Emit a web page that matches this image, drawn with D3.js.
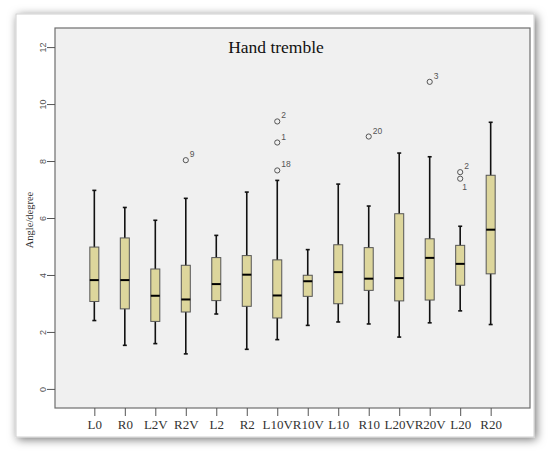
<!DOCTYPE html>
<html>
<head>
<meta charset="utf-8">
<script src="https://cdn.jsdelivr.net/npm/d3@7"></script>
<style>
  body { margin: 0; background: #fff; }
  svg { display: block; }
</style>
</head>
<body>
<svg id="chart"></svg>
<script>
// Data
const groups = ["L0", "R0", "L2V", "R2V", "L2", "R2", "L10V", "R10V", "L10", "R10", "L20V", "R20V", "L20", "R20"];
const whiskerLow = [2.40, 1.53, 1.59, 1.23, 2.63, 1.39, 1.73, 2.23, 2.35, 2.28, 1.82, 2.32, 2.74, 2.26];
const q1 = [3.07, 2.81, 2.37, 2.70, 3.10, 2.90, 2.49, 3.25, 2.99, 3.46, 3.09, 3.12, 3.64, 4.04];
const median = [3.82, 3.82, 3.27, 3.14, 3.68, 4.01, 3.28, 3.78, 4.10, 3.87, 3.89, 4.60, 4.39, 5.59];
const q3 = [4.98, 5.30, 4.21, 4.34, 4.61, 4.68, 4.53, 3.99, 5.06, 4.96, 6.15, 5.27, 5.04, 7.50];
const whiskerHigh = [6.97, 6.37, 5.92, 6.69, 5.39, 6.91, 7.32, 4.89, 7.19, 6.42, 8.28, 8.15, 5.71, 9.36];
const outliers = [
  { group: "R2V", value: 8.03, label: "9" },
  { group: "L10V", value: 9.39, label: "2" },
  { group: "L10V", value: 8.65, label: "1" },
  { group: "L10V", value: 7.67, label: "18" },
  { group: "R10", value: 8.86, label: "20" },
  { group: "R20V", value: 10.78, label: "3" },
  { group: "L20", value: 7.61, label: "2" },
  { group: "L20", value: 7.38, label: "1" }
];
const yTicks = [0, 2, 4, 6, 8, 10, 12];

const width = 550;
const height = 451;
const plot = { left: 55, right: 530, top: 28, bottom: 408 };

const svg = d3.select("#chart")
  .attr("width", width)
  .attr("height", height);

// card with a soft gray halo
const defs = svg.append("defs");
const filter = defs.append("filter").attr("id", "shadow")
  .attr("x", "-10%").attr("y", "-10%").attr("width", "120%").attr("height", "120%");
filter.append("feDropShadow")
  .attr("dx", 2).attr("dy", 2).attr("stdDeviation", 5)
  .attr("flood-color", "#000").attr("flood-opacity", 0.55);

svg.append("rect")
  .attr("x", 16).attr("y", 14)
  .attr("width", 518).attr("height", 423)
  .attr("fill", "#fff")
  .attr("stroke", "#d0d0d0")
  .attr("filter", "url(#shadow)");

const x = d3.scalePoint()
  .domain(groups)
  .range([plot.left, plot.right])
  .padding(1.29);

const y = d3.scaleLinear()
  .domain([-0.67, 12.67])
  .range([plot.bottom, plot.top]);

// plot area
svg.append("rect")
  .attr("x", plot.left).attr("y", plot.top)
  .attr("width", plot.right - plot.left)
  .attr("height", plot.bottom - plot.top)
  .attr("fill", "#f0f0f0")
  .attr("stroke", "#6e6e6e")
  .attr("stroke-width", 1.2);

// y axis
const yAxis = svg.append("g")
  .attr("transform", `translate(${plot.left},0)`)
  .call(d3.axisLeft(y).tickValues(yTicks).tickSize(8).tickFormat(d3.format("d")));
yAxis.select(".domain").remove();
yAxis.selectAll(".tick line").attr("stroke", "#555");
yAxis.selectAll(".tick text")
  .attr("transform", "rotate(-90)")
  .attr("x", 0)
  .attr("y", -9)
  .attr("dy", "0")
  .attr("text-anchor", "middle")
  .attr("font-family", "Liberation Sans, Arial, sans-serif")
  .attr("font-size", 9)
  .attr("fill", "#555");

svg.append("text")
  .attr("transform", "translate(33,220) rotate(-90)")
  .attr("text-anchor", "middle")
  .attr("font-family", "Liberation Serif, Times New Roman, serif")
  .attr("font-size", 10.5)
  .attr("fill", "#333")
  .text("Angle/degree");

// x axis
const xAxis = svg.append("g")
  .attr("transform", `translate(0,${plot.bottom})`)
  .call(d3.axisBottom(x).tickSize(8));
xAxis.select(".domain").remove();
xAxis.selectAll(".tick line").attr("stroke", "#555");
xAxis.selectAll(".tick text")
  .attr("y", 12)
  .attr("font-family", "Liberation Serif, Times New Roman, serif")
  .attr("font-size", 13)
  .attr("fill", "#333");

// title
svg.append("text")
  .attr("x", 276).attr("y", 53)
  .attr("text-anchor", "middle")
  .attr("font-family", "Liberation Serif, Times New Roman, serif")
  .attr("font-size", 17.5)
  .attr("fill", "#111")
  .text("Hand tremble");

// boxes
const boxW = 9;
const capW = 4;
const stats = groups.map((g, i) => ({
  g, lo: whiskerLow[i], q1: q1[i], med: median[i], q3: q3[i], hi: whiskerHigh[i]
}));

const box = svg.append("g").selectAll("g")
  .data(stats)
  .enter()
  .append("g")
  .attr("transform", d => `translate(${x(d.g)},0)`);

box.append("line")
  .attr("y1", d => y(d.lo)).attr("y2", d => y(d.hi))
  .attr("stroke", "#111").attr("stroke-width", 1.6);

box.append("line")
  .attr("x1", -capW / 2).attr("x2", capW / 2)
  .attr("y1", d => y(d.hi)).attr("y2", d => y(d.hi))
  .attr("stroke", "#111").attr("stroke-width", 1.6);

box.append("line")
  .attr("x1", -capW / 2).attr("x2", capW / 2)
  .attr("y1", d => y(d.lo)).attr("y2", d => y(d.lo))
  .attr("stroke", "#111").attr("stroke-width", 1.6);

box.append("rect")
  .attr("x", -boxW / 2)
  .attr("y", d => y(d.q3))
  .attr("width", boxW)
  .attr("height", d => y(d.q1) - y(d.q3))
  .attr("fill", "#ddd69c")
  .attr("stroke", "#555")
  .attr("stroke-width", 1);

box.append("line")
  .attr("x1", -boxW / 2).attr("x2", boxW / 2)
  .attr("y1", d => y(d.med)).attr("y2", d => y(d.med))
  .attr("stroke", "#000").attr("stroke-width", 2);

// outliers; a label goes below its circle when another one sits just above it
const crowded = d => outliers.some(o => o !== d && o.group === d.group &&
  y(o.value) < y(d.value) && y(d.value) - y(o.value) < 12);

const out = svg.append("g").selectAll("g")
  .data(outliers)
  .enter()
  .append("g")
  .attr("transform", d => `translate(${x(d.group)},${y(d.value)})`);

out.append("circle")
  .attr("r", 2.6)
  .attr("fill", "none")
  .attr("stroke", "#555")
  .attr("stroke-width", 1);

out.append("text")
  .attr("x", d => crowded(d) ? 2 : 4)
  .attr("y", d => crowded(d) ? 11 : -3)
  .attr("font-family", "Liberation Sans, Arial, sans-serif")
  .attr("font-size", 8.5)
  .attr("fill", "#555")
  .text(d => d.label);
</script>
</body>
</html>
